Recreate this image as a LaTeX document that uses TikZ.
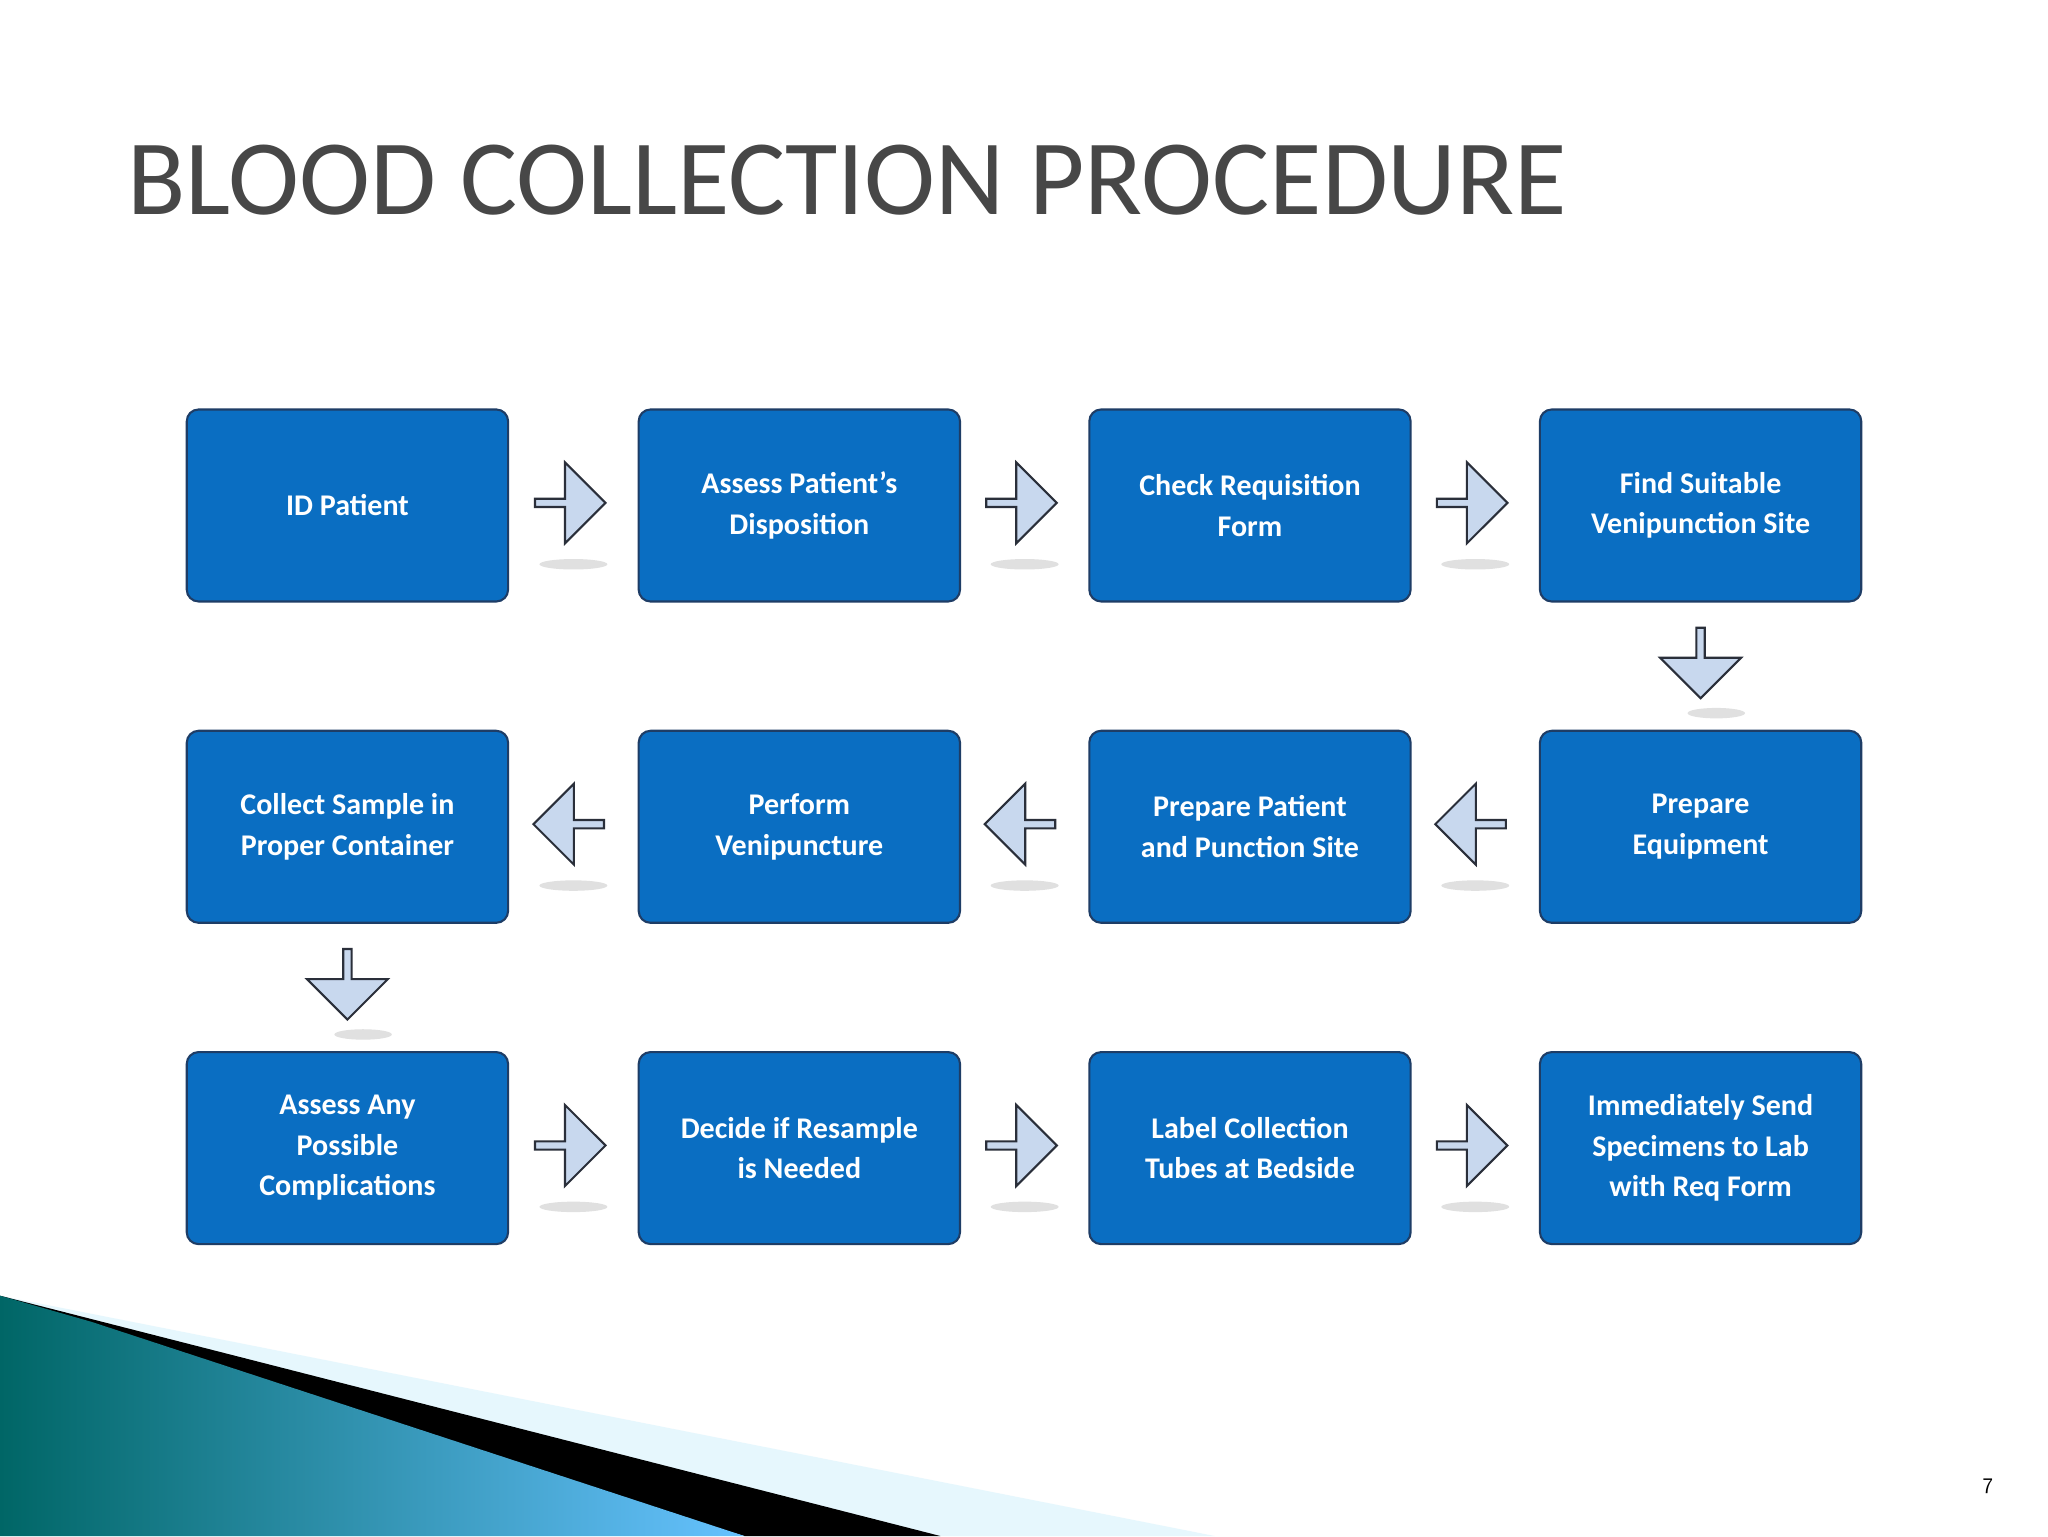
\documentclass[tikz,border=0pt]{standalone}
\usepackage{fontspec}
\setmainfont{Carlito}
\usetikzlibrary{shapes.arrows,calc,shadows.blur}
\definecolor{boxblue}{HTML}{0A6EC2}
\definecolor{boxedge}{HTML}{1E3D66}
\definecolor{arrfill}{HTML}{C8D8EE}
\definecolor{arredge}{HTML}{2A2F3A}
\begin{document}
\begin{tikzpicture}[x=1pt,y=-1pt,
 stepbox/.style={draw=boxedge,line width=1.6pt,fill=boxblue,rounded corners=9pt,minimum width=246pt,minimum height=147pt,inner sep=0pt,text=white,align=center,font=\fontsize{23}{31}\selectfont\bfseries},
 blockarr/.style={single arrow,draw=arredge,line width=1.6pt,fill=arrfill,minimum width=62pt,minimum height=54pt,single arrow head extend=7pt,inner sep=0pt,single arrow tip angle=90}]
\useasboundingbox (0,0) rectangle (1568,1176);
\fill[white] (0,0) rectangle (1568,1176);
% title
\node[anchor=west,text=black!72,font=\fontsize{82}{90}\selectfont] (title) at (94,138) {BLOOD COLLECTION PROCEDURE};
% boxes
\foreach \n/\x/\y/\t in {a/266/387/ID Patient, b/612/387/Assess Patient's\\Disposition, c/957/387/Check Requisition\\Form, d/1302/387/Find Suitable\\Venipunction Site,
 e/1302/633/Prepare\\Equipment, f/957/633/Prepare Patient\\and Punction Site, g/612/633/Perform\\Venipuncture, h/266/633/Collect Sample in\\Proper Container,
 i/266/879/Assess Any\\Possible\\Complications, j/612/879/Decide if Resample\\is Needed, k/957/879/Label Collection\\Tubes at Bedside, l/1302/879/Immediately Send\\Specimens to Lab\\with Req Form}
 \node[stepbox] (\n) at (\x,\y) {\t};
% arrows
\foreach \p/\q in {a/b,b/c,c/d,i/j,j/k,k/l}{
 \fill[black!12] ($(\p.east)!0.5!(\q.west)+(0,45)$) ellipse (26pt and 4pt);
 \node[blockarr] (ar\p\q) at ($(\p.east)!0.5!(\q.west)+(-4,-2)$) {};}
\foreach \p/\q in {e/f,f/g,g/h}{
 \fill[black!12] ($(\p.west)!0.5!(\q.east)+(0,45)$) ellipse (26pt and 4pt);
 \node[blockarr,shape border rotate=180] (ar\p\q) at ($(\p.west)!0.5!(\q.east)+(-2,-2)$) {};}
\foreach \p/\q in {d/e,h/i}{
 \fill[black!12] ($(\p.south)!0.5!(\q.north)+(12,36)$) ellipse (22pt and 4pt);
 \node[blockarr,shape border rotate=270] (ar\p\q) at ($(\p.south)!0.5!(\q.north)+(0,-4)$) {};}
% bottom decoration
\fill[cyan!10!white] (0,992) -- (930,1176) -- (0,1176) -- cycle;
\fill[black] (0,992) -- (720,1176) -- (570,1176) -- (0,1004) -- cycle;
\shade[left color=teal!80!black, right color=cyan!60!blue!60] (0,992) -- (70,1012) -- (570,1176) -- (0,1176) -- cycle;
\node[font=\fontsize{17}{20}\selectfont\sffamily] (pg) at (1522,1138) {7};
\end{tikzpicture}
\end{document}
